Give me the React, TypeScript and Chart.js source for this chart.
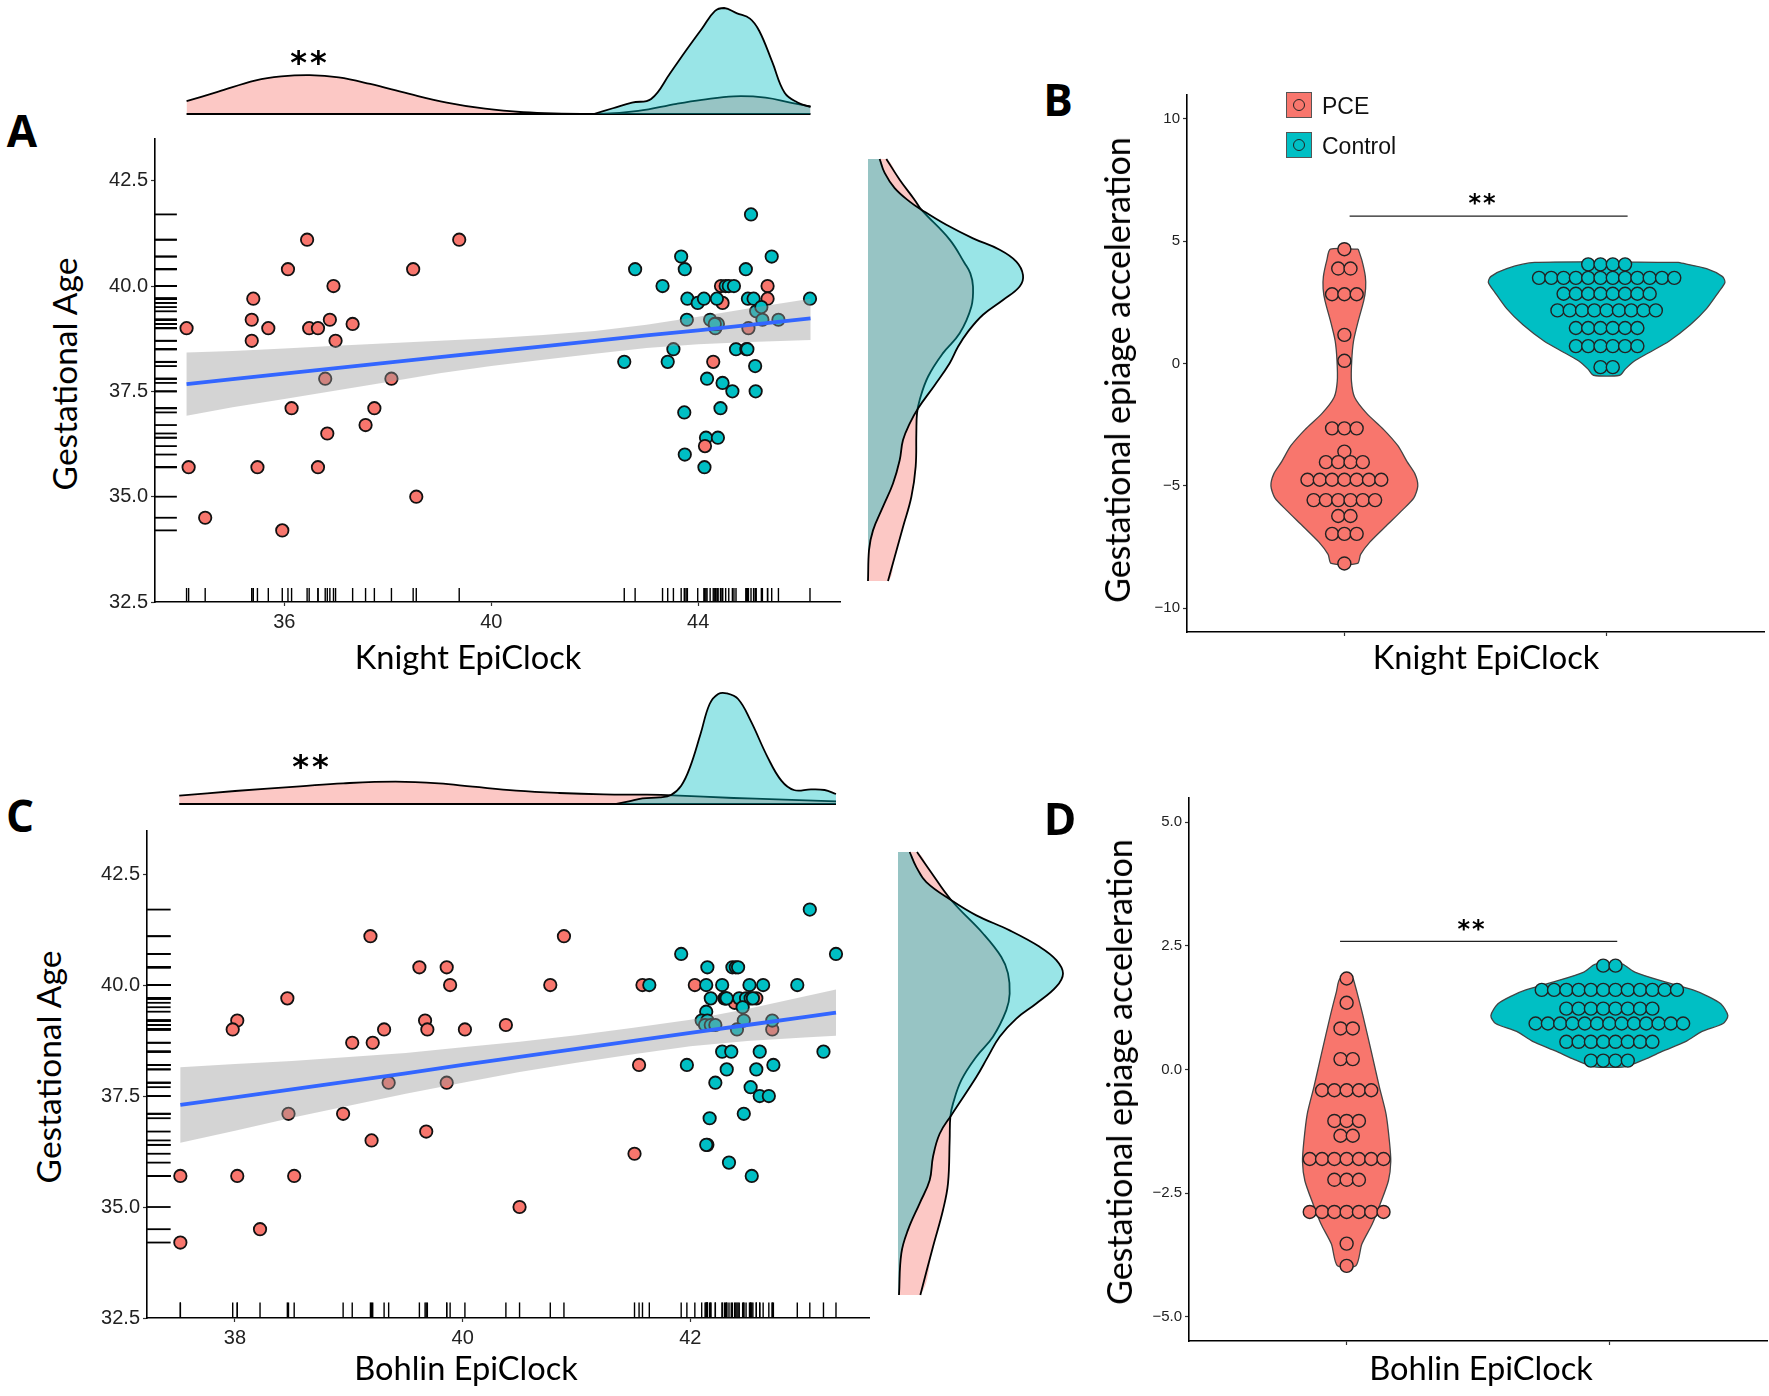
import React, { useEffect, useRef } from "react";
import { Chart, registerables } from "chart.js";
Chart.register(...registerables);

const PCE = "#F8766D";
const CTRL = "#00BFC4";
const PCE_FILL = "rgba(248,118,109,0.4)";
const CTRL_FILL = "rgba(0,191,196,0.4)";

// ---------- Panel A ----------
const aPceX = [34.11,34.15,34.47,35.96,35.40,35.37,35.37,35.69,35.48,36.07,36.44,36.48,36.65,36.65,36.88,36.99,36.95,37.32,36.14,36.83,36.79,38.07,37.74,37.57,38.49,38.55,39.38,44.29,44.47,44.44,45.34,45.34,44.97];
const aPceY = [39.0,35.7,34.5,34.2,39.7,39.2,38.7,39.0,35.7,40.4,41.1,39.0,39.0,35.7,39.2,38.7,40.0,39.1,37.1,36.5,37.8,37.8,37.1,36.7,40.4,35.0,41.1,38.2,39.6,40.0,40.0,39.7,39.0];
const aPceFrontX = [44.13];
const aPceFrontY = [36.2];
const aCtrlX = [42.57,42.78,43.31,43.41,43.52,43.67,43.74,43.79,43.78,43.73,43.74,43.99,44.11,44.36,44.23,44.33,44.38,44.32,44.17,44.47,44.66,44.43,44.15,44.38,44.12,44.53,44.59,44.69,44.73,44.93,44.95,44.92,45.02,45.42,44.96,45.07,45.10,45.11,45.12,45.22,45.24,45.55,46.16];
const aCtrlY = [38.2,40.4,40.0,38.2,38.5,40.7,40.4,39.7,39.2,37.0,36.0,39.6,39.7,39.7,39.2,39.0,39.1,39.1,37.8,37.7,37.5,37.1,36.4,36.4,35.7,40.0,40.0,40.0,38.5,38.5,38.5,40.4,41.7,40.7,39.7,39.7,38.1,37.5,39.4,39.5,39.2,39.2,39.7];
const aFitX = [34.11,35,36,37,38,39,40,41,42,43,44,45,46.17];
const aFitY = [37.67,37.79,37.92,38.05,38.18,38.31,38.44,38.57,38.70,38.83,38.95,39.08,39.23];
const aFitLow = [36.92,37.12,37.32,37.52,37.72,37.93,38.10,38.25,38.39,38.53,38.62,38.67,38.72];
const aFitHigh = [38.42,38.46,38.52,38.58,38.64,38.70,38.76,38.84,38.93,39.08,39.27,39.47,39.70];
const aTopPceX = [34.11,34.71,35.45,35.94,36.49,37.05,37.66,38.40,39.14,39.88,40.62,41.36,42.10,42.84,43.58,44.07,44.69,45.30,45.80,46.17];
const aTopPceD = [0.029,0.050,0.076,0.085,0.088,0.083,0.068,0.046,0.026,0.012,0.004,0.001,0,0.007,0.023,0.032,0.040,0.037,0.025,0.017];
const aTopCtrlX = [41.98,42.35,42.72,43.09,43.46,43.76,44.07,44.32,44.50,44.75,45.0,45.18,45.43,45.67,45.92,46.17];
const aTopCtrlD = [0,0.013,0.026,0.034,0.093,0.143,0.193,0.233,0.240,0.228,0.216,0.188,0.118,0.048,0.026,0.016];
const aSidePceAge = [43.00,42.51,42.03,41.80,41.09,40.53,40.29,39.98,39.50,38.87,38.40,37.84,37.29,36.97,36.50,35.71,34.99,34.28,33.57,33.00];
const aSidePceD = [0.055,0.095,0.140,0.160,0.245,0.290,0.307,0.315,0.310,0.275,0.225,0.180,0.155,0.147,0.145,0.143,0.130,0.105,0.080,0.060];
const aSideCtrlAge = [43.00,42.67,42.31,41.99,41.80,41.44,41.12,40.85,40.57,40.25,39.98,39.66,39.31,38.91,38.55,38.16,37.64,37.09,36.73,36.34,35.86,35.31,34.76,34.20,33.73,33.00];
const aSideCtrlD = [0.035,0.050,0.080,0.125,0.160,0.235,0.315,0.395,0.445,0.465,0.455,0.405,0.345,0.300,0.270,0.245,0.200,0.150,0.125,0.105,0.095,0.075,0.045,0.015,0.003,0];

// ---------- Panel C ----------
const cPceX = [37.52,37.52,38.02,38.02,37.98,38.22,38.46,38.47,38.52,38.95,39.03,39.19,39.21,39.20,39.31,39.35,39.62,39.67,39.69,39.68,39.86,39.86,39.89,40.02,40.38,40.50,40.77,40.89,41.51,41.55,41.58,42.04,42.39,42.58,42.72];
const cPceY = [35.7,34.2,35.7,39.2,39.0,34.5,39.7,37.1,35.7,37.1,38.7,41.1,38.7,36.5,39.0,37.8,40.4,39.2,39.0,36.7,40.4,37.8,40.0,39.0,39.1,35.0,40.0,41.1,36.2,38.2,40.0,40.0,39.6,39.7,39.0];
const cCtrlX = [41.92,42.15,42.37,42.40,42.42,41.64,42.14,42.28,42.52,42.64,42.94,43.28,42.18,42.30,42.31,42.32,42.43,42.49,42.53,42.55,42.14,42.46,42.10,42.15,42.13,42.18,42.22,42.47,42.41,42.72,42.28,42.36,42.61,43.17,41.97,42.73,42.32,42.58,42.22,42.53,42.61,42.69,42.47,42.17,42.15,42.14,42.34,42.54,43.05];
const cCtrlY = [40.7,40.4,40.4,40.4,40.4,40.0,40.0,40.0,40.0,40.0,40.0,40.7,39.7,39.7,39.7,39.7,39.7,39.7,39.7,39.7,39.4,39.5,39.2,39.2,39.1,39.1,39.1,39.2,39.0,39.2,38.5,38.5,38.5,38.5,38.2,38.2,38.1,38.1,37.8,37.7,37.5,37.5,37.1,37.0,36.4,36.4,36.0,35.7,41.7];
const cFitX = [37.52,38,38.5,39,39.5,40,40.5,41,41.5,42,42.5,43,43.28];
const cFitY = [37.30,37.47,37.65,37.83,38.01,38.20,38.38,38.56,38.74,38.92,39.10,39.28,39.38];
const cFitLow = [36.45,36.72,37.01,37.28,37.55,37.80,38.04,38.25,38.44,38.62,38.74,38.82,38.86];
const cFitHigh = [38.15,38.22,38.29,38.38,38.47,38.60,38.72,38.87,39.04,39.22,39.46,39.74,39.90];
const cTopPceX = [37.51,38.0,38.57,38.95,39.41,39.79,40.09,40.47,40.85,41.24,41.62,41.85,42.38,42.76,43.28];
const cTopPceD = [0.025,0.039,0.053,0.062,0.067,0.062,0.052,0.040,0.033,0.029,0.028,0.026,0.018,0.014,0.008];
const cTopCtrlX = [41.35,41.46,41.58,41.73,41.83,41.92,41.997,42.09,42.17,42.245,42.32,42.42,42.53,42.68,42.80,42.91,43.06,43.18,43.28];
const cTopCtrlD = [0,0.008,0.017,0.020,0.027,0.055,0.110,0.210,0.300,0.330,0.332,0.315,0.250,0.140,0.070,0.042,0.044,0.042,0.030];
const cSidePceAge = [43,42.59,41.91,41.16,40.63,40.26,39.80,39.43,38.83,38.38,37.85,37.32,37.02,36.50,35.52,34.92,34.09,33.0];
const cSidePceD = [0.057,0.095,0.160,0.255,0.310,0.330,0.335,0.325,0.285,0.235,0.190,0.165,0.157,0.155,0.150,0.135,0.105,0.067];
const cSideCtrlAge = [43,42.66,42.32,41.91,41.57,41.23,40.86,40.56,40.26,39.96,39.58,39.24,38.83,38.38,37.92,37.06,36.64,36.12,35.59,35.07,34.47,33.94,33.0];
const cSideCtrlD = [0.035,0.055,0.085,0.160,0.235,0.335,0.425,0.475,0.495,0.475,0.415,0.355,0.305,0.270,0.235,0.160,0.125,0.105,0.095,0.065,0.030,0.010,0.003];

// ---------- Panel B ----------
const bPceRowY = [4.67,3.88,2.83,1.17,0.11,-2.65,-3.6,-4.03,-4.75,-5.58,-6.23,-6.96,-8.17];
const bPceRowN = [1,2,3,1,1,3,1,4,7,6,2,3,1];
const bCtrlRowY = [4.05,3.5,2.85,2.17,1.45,0.71,-0.15];
const bCtrlRowN = [4,12,8,9,6,6,2];
const bPceVioY = [4.67,4.21,3.55,3.06,2.57,1.74,0.92,0.10,-0.72,-1.38,-2.04,-2.70,-3.36,-4.01,-4.51,-5.0,-5.49,-5.99,-6.64,-7.30,-7.80,-8.17];
const bPceVioW = [0.053,0.067,0.080,0.081,0.074,0.053,0.035,0.028,0.027,0.039,0.085,0.150,0.204,0.239,0.269,0.280,0.265,0.221,0.159,0.097,0.062,0.050];
const bCtrlVioY = [4.13,3.88,3.55,3.31,2.89,2.24,1.58,0.92,0.43,0.10,-0.23,-0.48];
const bCtrlVioW = [0.274,0.381,0.442,0.451,0.425,0.381,0.319,0.239,0.159,0.106,0.071,0.050];

// ---------- Panel D ----------
const dPceRowY = [1.84,1.35,0.83,0.21,-0.42,-1.04,-1.34,-1.81,-2.23,-2.88,-3.52,-3.97];
const dPceRowN = [1,1,2,2,5,3,2,7,3,7,1,1];
const dCtrlRowY = [2.10,1.61,1.23,0.93,0.56,0.18];
const dCtrlRowN = [2,12,8,13,8,4];
const dPceVioY = [1.84,1.57,1.09,0.29,-0.34,-0.90,-1.46,-1.86,-2.25,-2.73,-3.13,-3.53,-3.97];
const dPceVioW = [0.025,0.039,0.062,0.097,0.124,0.150,0.163,0.168,0.159,0.127,0.097,0.058,0.035];
const dCtrlVioY = [2.13,1.97,1.77,1.61,1.49,1.33,1.09,0.93,0.77,0.57,0.37,0.22,0.06];
const dCtrlVioW = [0.053,0.097,0.212,0.318,0.371,0.424,0.451,0.433,0.353,0.292,0.203,0.141,0.062];

const ageTicks = [32.5,35,37.5,40,42.5];
const aXTicks = [36,40,44];
const cXTicks = [38,40,42];
const bYTicks = [-10,-5,0,5,10];
const dYTicks = [-5,-2.5,0,2.5,5];
const groupTicks = [1,2];

const zip = (xs: number[], ys: number[]) => xs.map((x, i) => ({ x, y: ys[i] }));

const scatterDs = (xs: number[], ys: number[], color: string, order: number) => ({
  data: zip(xs, ys), backgroundColor: color, borderColor: "#111", pointRadius: 6.2, pointBorderWidth: 1.8, showLine: false, order,
});
const rugX = (xs: number[], at: number, r: number) => ({
  data: xs.map((x) => ({ x, y: at })), pointStyle: "line", pointRotation: 90, pointRadius: r, pointBorderWidth: 1.4, pointBorderColor: "#000", showLine: false, order: 9,
});
const rugY = (ys: number[], at: number, r: number) => ({
  data: ys.map((y) => ({ x: at, y })), pointStyle: "line", pointRotation: 0, pointRadius: r, pointBorderWidth: 1.8, pointBorderColor: "#000", showLine: false, order: 9,
});
const bandDs = (xs: number[], lo: number[], hi: number[]) => ({
  data: [...zip(xs, hi), ...zip(xs, lo).reverse()], showLine: true, fill: "shape", backgroundColor: "rgba(153,153,153,0.42)", borderWidth: 0, pointRadius: 0, order: 3,
});
const fitDs = (xs: number[], ys: number[]) => ({
  data: zip(xs, ys), showLine: true, borderColor: "#3366FF", borderWidth: 3.8, pointRadius: 0, order: 2,
});
const topDs = (xs: number[], ds: number[], fill: string, order: number) => ({
  data: zip(xs, ds), showLine: true, tension: 0.4, fill: { value: 0 }, backgroundColor: fill, borderColor: "#000", borderWidth: 1.8, pointRadius: 0, clip: 6, order,
});
const baseDs = (xs: number[], order: number) => ({
  data: [{ x: xs[0], y: 0 }, { x: xs[xs.length - 1], y: 0 }], showLine: true, borderColor: "#000", borderWidth: 1.8, pointRadius: 0, clip: 6, order,
});
const sideFill = (ds: number[], ages: number[], fill: string, order: number) => ({
  data: [{ x: 0, y: ages[0] }, ...zip(ds, ages), { x: 0, y: ages[ages.length - 1] }], showLine: true, tension: 0.4, fill: "shape", backgroundColor: fill, borderWidth: 0, pointRadius: 0, clip: 6, order,
});
const sideLine = (ds: number[], ages: number[], order: number) => ({
  data: zip(ds, ages), showLine: true, tension: 0.4, borderColor: "#000", borderWidth: 1.8, pointRadius: 0, clip: 6, order,
});
const violinDs = (center: number, ys: number[], ws: number[], color: string, order: number) => {
  const right = ys.map((y, i) => ({ x: center + ws[i], y }));
  const left = ys.map((y, i) => ({ x: center - ws[i], y })).reverse();
  return { data: [...right, ...left, right[0]], showLine: true, tension: 0.25, fill: "shape", backgroundColor: color, borderColor: "#444", borderWidth: 1.3, pointRadius: 0, order };
};
const dotsDs = (center: number, rowY: number[], rowN: number[], color: string, step: number) => ({
  data: rowY.flatMap((y, r) => Array.from({ length: rowN[r] }, (_, i) => ({ x: center + (i - (rowN[r] - 1) / 2) * step, y }))),
  backgroundColor: color, borderColor: "#222", pointRadius: 6.5, pointBorderWidth: 1.4, showLine: false, clip: false, order: 1,
});

const axisX = (min: number, max: number, ticks: number[], size: number, labels = true) => ({
  type: "linear", min, max,
  afterBuildTicks: (s: any) => { s.ticks = ticks.map((value) => ({ value })); },
  border: { color: "#000", width: 1.6 },
  grid: { drawOnChartArea: false, drawTicks: true, tickLength: 4, tickColor: "#333", tickWidth: 1.2 },
  ticks: { display: labels, autoSkip: false, maxRotation: 0, color: "#222", padding: 4, font: { family: "Liberation Sans", size }, callback: (v: any) => String(v) },
  afterFit: (s: any) => { s.height = 40; },
});
const axisY = (min: number, max: number, ticks: number[], size: number, digits: number) => ({
  type: "linear", min, max,
  afterBuildTicks: (s: any) => { s.ticks = ticks.map((value) => ({ value })); },
  border: { color: "#000", width: 1.6 },
  grid: { drawOnChartArea: false, drawTicks: true, tickLength: 4, tickColor: "#333", tickWidth: 1.2 },
  ticks: { autoSkip: false, color: "#222", padding: 3, font: { family: "Liberation Sans", size }, callback: (v: any) => Number(v).toFixed(digits).replace("-", "\u2212") },
  afterFit: (s: any) => { s.width = 60; },
});
const hidden = (min: number, max: number) => ({ type: "linear", display: false, min, max });

type Rect = { l: number; t: number; r: number; b: number };
type Cfg = { rect: Rect; axes: boolean; datasets: any[]; x: any; y: any };

const panels: Cfg[] = [
  // A main
  { rect: { l: 155, t: 139, r: 840, b: 602 }, axes: true,
    x: axisX(33.5, 46.74, aXTicks, 20), y: axisY(32.5, 43.49, ageTicks, 20, 1),
    datasets: [
      rugX([...aPceX, ...aPceFrontX, ...aCtrlX], 32.666, 7), rugY([...aPceY, ...aPceFrontY, ...aCtrlY], 33.71, 11),
      scatterDs(aPceX, aPceY, PCE, 6), scatterDs(aCtrlX, aCtrlY, CTRL, 5), scatterDs(aPceFrontX, aPceFrontY, PCE, 4),
      bandDs(aFitX, aFitLow, aFitHigh), fitDs(aFitX, aFitY),
    ] },
  // A top
  { rect: { l: 155, t: 8, r: 840, b: 114 }, axes: false, x: hidden(33.5, 46.74), y: hidden(0, 0.24),
    datasets: [topDs(aTopPceX, aTopPceD, PCE_FILL, 6), baseDs(aTopPceX, 5), topDs(aTopCtrlX, aTopCtrlD, CTRL_FILL, 4)] },
  // A side
  { rect: { l: 868, t: 159, r: 1030, b: 581 }, axes: false, x: hidden(0, 0.486), y: hidden(33, 43),
    datasets: [sideFill(aSidePceD, aSidePceAge, PCE_FILL, 6), sideLine(aSidePceD, aSidePceAge, 5), sideFill(aSideCtrlD, aSideCtrlAge, CTRL_FILL, 4), sideLine(aSideCtrlD, aSideCtrlAge, 3)] },
  // C main
  { rect: { l: 147, t: 831, r: 869, b: 1318 }, axes: true,
    x: axisX(37.227, 43.57, cXTicks, 20), y: axisY(32.5, 43.47, ageTicks, 20, 1),
    datasets: [
      rugX([...cPceX, ...cCtrlX], 32.675, 7.8), rugY([...cPceY, ...cCtrlY], 37.331, 11.8),
      scatterDs(cPceX, cPceY, PCE, 6), scatterDs(cCtrlX, cCtrlY, CTRL, 5),
      bandDs(cFitX, cFitLow, cFitHigh), fitDs(cFitX, cFitY),
    ] },
  // C top
  { rect: { l: 147, t: 692, r: 869, b: 804 }, axes: false, x: hidden(37.227, 43.57), y: hidden(0, 0.336),
    datasets: [topDs(cTopPceX, cTopPceD, PCE_FILL, 6), baseDs(cTopPceX, 5), topDs(cTopCtrlX, cTopCtrlD, CTRL_FILL, 4)] },
  // C side
  { rect: { l: 898, t: 852, r: 1070, b: 1295 }, axes: false, x: hidden(0, 0.516), y: hidden(33, 43),
    datasets: [sideFill(cSidePceD, cSidePceAge, PCE_FILL, 6), sideLine(cSidePceD, cSidePceAge, 5), sideFill(cSideCtrlD, cSideCtrlAge, CTRL_FILL, 4), sideLine(cSideCtrlD, cSideCtrlAge, 3)] },
  // B
  { rect: { l: 1187, t: 95, r: 1764, b: 632 }, axes: true,
    x: axisX(0.4, 2.6, groupTicks, 15, false), y: axisY(-10.97, 10.97, bYTicks, 15, 0),
    datasets: [
      violinDs(1, bPceVioY, bPceVioW, PCE, 4), violinDs(2, bCtrlVioY, bCtrlVioW, CTRL, 3),
      dotsDs(1, bPceRowY, bPceRowN, PCE, 0.0469), dotsDs(2, bCtrlRowY, bCtrlRowN, CTRL, 0.0469),
      { data: [{ x: 1.02, y: 6.02 }, { x: 2.08, y: 6.02 }], showLine: true, borderColor: "#222", borderWidth: 1.4, pointRadius: 0, order: 2 },
    ] },
  // D
  { rect: { l: 1189, t: 798, r: 1767, b: 1341 }, axes: true,
    x: axisX(0.4, 2.6, groupTicks, 15, false), y: axisY(-5.49, 5.49, dYTicks, 15, 1),
    datasets: [
      violinDs(1, dPceVioY, dPceVioW, PCE, 4), violinDs(2, dCtrlVioY, dCtrlVioW, CTRL, 3),
      dotsDs(1, dPceRowY, dPceRowN, PCE, 0.0468), dotsDs(2, dCtrlRowY, dCtrlRowN, CTRL, 0.0468),
      { data: [{ x: 0.975, y: 2.59 }, { x: 2.03, y: 2.59 }], showLine: true, borderColor: "#222", borderWidth: 1.4, pointRadius: 0, order: 2 },
    ] },
];

function Panel({ cfg }: { cfg: Cfg }) {
  const ref = useRef<HTMLCanvasElement>(null);
  const { rect, axes } = cfg;
  const ml = axes ? 60 : 6, mb = axes ? 40 : 6;
  const mt = axes ? 20 : 8, mr = axes ? 20 : 8;
  const w = rect.r - rect.l + ml + mr;
  const h = rect.b - rect.t + mt + mb;
  useEffect(() => {
    const chart = new Chart(ref.current as HTMLCanvasElement, {
      type: "scatter",
      data: { datasets: cfg.datasets },
      options: {
        animation: false, responsive: false, devicePixelRatio: 1,
        layout: { autoPadding: false, padding: axes ? { top: mt, right: mr, left: 0, bottom: 0 } : { top: mt, right: mr, left: ml, bottom: mb } },
        plugins: { legend: { display: false }, tooltip: { enabled: false } },
        scales: { x: cfg.x, y: cfg.y },
      } as any,
    } as any);
    return () => chart.destroy();
  }, []);
  return <canvas ref={ref} width={w} height={h} style={{ position: "absolute", left: rect.l - ml, top: rect.t - mt, width: w, height: h }} />;
}

const T = ({ x, y, size, rot, weight, family, children, spacing }: any) => (
  <div style={{
    position: "absolute", left: x, top: y, transform: `translate(-50%,-50%)${rot ? " rotate(-90deg)" : ""}`,
    fontFamily: family || "Lato", fontSize: size, fontWeight: weight || 400, color: "#000", whiteSpace: "nowrap", lineHeight: 1, letterSpacing: spacing || 0,
  }}>{children}</div>
);

const Key = ({ y, color, label }: any) => (
  <>
    <div style={{ position: "absolute", left: 1286, top: y, width: 26, height: 26, boxSizing: "border-box", background: color, border: "1.5px solid #555" }} />
    <div style={{ position: "absolute", left: 1293, top: y + 7, width: 12, height: 12, boxSizing: "border-box", background: color, border: "1.4px solid #222", borderRadius: "50%" }} />
    <div style={{ position: "absolute", left: 1322, top: y + 1, fontFamily: "Liberation Sans", fontSize: 23, lineHeight: "26px", color: "#111" }}>{label}</div>
  </>
);

export default function App() {
  return (
    <div style={{ position: "absolute", left: 0, top: 0, width: 1769, height: 1396, overflow: "hidden", background: "#fff" }}>
      {panels.map((p, i) => <Panel key={i} cfg={p} />)}
      <T x={22} y={130} size={44} weight={700} family="Open Sans">A</T>
      <T x={1058} y={99} size={44} weight={700} family="Open Sans">B</T>
      <T x={20} y={815} size={44} weight={700} family="Open Sans">C</T>
      <T x={1060} y={818} size={44} weight={700} family="Open Sans">D</T>
      <T x={65} y={374} size={33.5} rot>Gestational Age</T>
      <T x={49} y={1067} size={33.5} rot>Gestational Age</T>
      <T x={1117} y={370} size={34} rot>Gestational epiage acceleration</T>
      <T x={1119} y={1072} size={34} rot>Gestational epiage acceleration</T>
      <T x={468} y={657} size={32.6}>Knight EpiClock</T>
      <T x={466} y={1368} size={32.6}>Bohlin EpiClock</T>
      <T x={1486} y={657} size={32.6}>Knight EpiClock</T>
      <T x={1481} y={1368} size={32.6}>Bohlin EpiClock</T>
      <T x={310} y={62} size={32} weight={700} spacing={3} family="DejaVu Sans">**</T>
      <T x={312} y={766} size={32} weight={700} spacing={3} family="DejaVu Sans">**</T>
      <T x={1483} y={203} size={24} weight={700} spacing={2} family="DejaVu Sans">**</T>
      <T x={1472} y={929} size={24} weight={700} spacing={2} family="DejaVu Sans">**</T>
      <Key y={92} color={PCE} label="PCE" />
      <Key y={132} color={CTRL} label="Control" />
    </div>
  );
}
